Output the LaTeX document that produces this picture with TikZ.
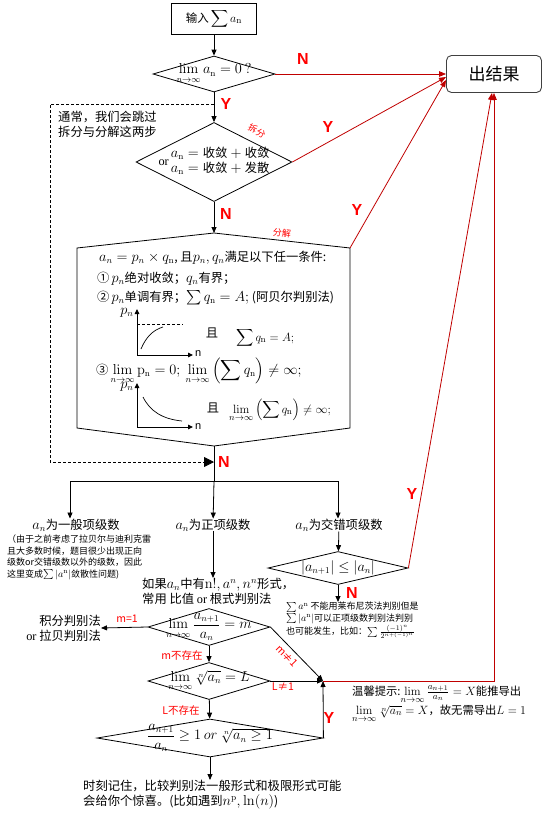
\documentclass[tikz,border=0pt]{standalone}
\usepackage{amsmath}
\usepackage[no-math]{fontspec}
\setmainfont{Noto Sans CJK SC}
\newfontfamily\latin{Liberation Serif}
\newfontfamily\arial{Liberation Sans}
\usepackage{tikz}
\usetikzlibrary{arrows.meta, positioning, shapes.geometric}

\DeclareMathSizes{12.3}{13.5}{9.5}{7.5}
\DeclareMathSizes{11.5}{12.6}{9}{7}
\DeclareMathSizes{11.3}{12.3}{8.8}{7}
\DeclareMathSizes{9}{10}{7}{5}

\definecolor{darkred}{HTML}{C00000}
\definecolor{brightred}{HTML}{FF0000}

\begin{document}
\begin{tikzpicture}[
  x = 1pt, y = -1pt,
  every node/.style = {font=\fontsize{12.3}{15}\selectfont, inner sep=0pt},
  box/.style    = {rectangle, draw=black, line width=0.8pt,
                   minimum width=85pt, minimum height=31pt},
  result/.style = {rectangle, rounded corners=5pt, draw=black!75, line width=0.9pt,
                   minimum width=95pt, minimum height=37pt,
                   font=\fontsize{17}{20}\selectfont},
  test/.style   = {diamond, draw=black, line width=0.8pt, inner sep=0pt},
  plain/.style  = {line width=0.8pt},
  arr/.style    = {-{Triangle[length=6pt, width=5pt]}, line width=0.8pt},
  rarr/.style   = {-{Triangle[length=7pt, width=5.5pt]}, draw=darkred, line width=0.8pt},
  bypass/.style = {-{Triangle[length=10pt, width=10pt]}, line width=0.8pt,
                   dash pattern=on 3pt off 2pt},
  gaxis/.style  = {-{Triangle[length=5pt, width=4.5pt]}, line width=0.9pt},
  yn/.style     = {text=brightred, font=\arial\bfseries\fontsize{16}{16}\selectfont},
  rlab/.style   = {text=brightred, font=\fontsize{10.5}{12}\selectfont},
  redsmall/.style = {text=brightred, font=\fontsize{9}{10}\selectfont},
  remark/.style = {align=left, font=\fontsize{9}{11.5}\selectfont}
]
\useasboundingbox (0,0) rectangle (549,814);

% ---- start and first test ---------------------------------------------
\node[box, font=\fontsize{11.5}{13}\selectfont, at={(214,19)}] (inp)
  {输入\,$\displaystyle\sum a_\mathrm{n}$};
\node[test, minimum width=122pt, minimum height=36pt, at={(214,74)},
      label={center:{$\lim\limits_{n\to\infty} a_\mathrm{n}=0\ ?$}}] (lim0) {};
\node[result, at={(494,74)}] (res) {出结果};

\draw[arr] (inp) -- (lim0);
\draw[rarr] (lim0.east) -- (res.west);
\node[yn, at={(303,59)}] (nlim) {N};

% ---- split test -----------------------------------------------------------
\node[test, minimum width=156pt, minimum height=79pt, at={(214,162)},
      label={center:{{\latin or}\,$\begin{array}{@{}l@{}}
        a_\mathrm{n}=\text{收敛}+\text{收敛}\\
        a_\mathrm{n}=\text{收敛}+\text{发散}\end{array}$}}] (split) {};
\draw[arr] (lim0) -- (split);
\node[yn, at={(226,104)}] (ylim) {Y};
\draw[rarr] (split.east) -- ([yshift=-3pt]res.west);
\node[yn, at={(328,127)}] (ysplit) {Y};
\node[redsmall, rotate=-27, at={(257,131)}] (chaifen) {拆分};

% the usual shortcut round splitting and decomposing
\coordinate (skipin)  at (214,104);
\coordinate (skipout) at (214,462);
\draw[bypass] (skipin) -- (50,104) -- (50,462) -- (skipout);
\node[anchor=north west, align=left, at={(58,111)}] (skiptxt)
  {通常，我们会跳过\\拆分与分解这两步};

% ---- decomposition box ------------------------------------------------------
\coordinate (dtop) at (214,233);
\coordinate (dtr)  at (350,248);
\coordinate (dbr)  at (350,428);
\coordinate (dbot) at (214,446);
\coordinate (dbl)  at (77,428);
\coordinate (dtl)  at (77,248);
\draw[plain] (dtop) -- (dtr) -- (dbr) -- (dbot) -- (dbl) -- (dtl) -- cycle;

\draw[arr] (split) -- (dtop);
\node[yn, at={(226,214)}] (nsplit) {N};
\node[redsmall, rotate=-6, at={(282,233)}] (fenjie) {分解};
\draw[rarr] (dtr) -- ([yshift=-6pt]res.west);
\node[yn, at={(357,210)}] (ydec) {Y};

\node[anchor=west, at={(99,258)}] (cond)
  {$a_n=p_n\times q_\mathrm{n}$, 且$p_n,q_n$满足以下任一条件:};
\node[anchor=west, at={(97,279)}] (c1) {①\,$p_n$绝对收敛；$q_n$有界；};
\node[anchor=west, at={(97,298)}] (c2)
  {②\,$p_n$单调有界；$\sum q_\mathrm{n}=A;$ (阿贝尔判别法)};

% small sketch: p_n bounded and monotone
\coordinate (o1) at (137,355);
\draw[gaxis] (o1) -- ++(0,-46);
\draw[gaxis] (o1) -- ++(56,0);
\draw[line width=0.7pt, dash pattern=on 3pt off 2pt] (137,324) -- (183,324);
\draw[line width=0.7pt] (141,349) .. controls (146,337) and (153,330) .. (163,327);
\node[at={(127,313)}] (py1) {$p_n$};
\node[anchor=west, font=\arial\fontsize{11}{12}\selectfont, at={(195,354)}] (nx1) {n};
\node[at={(212,333)}] (qie1) {且};
\node[anchor=west, font=\fontsize{11.5}{13}\selectfont, at={(236,338)}] (sumA)
  {$\displaystyle\sum q_\mathrm{n}=A;$};

\node[anchor=base west, at={(96,374)}] (c3)
  {③\,$\displaystyle\lim_{n\to\infty}\mathrm{p_n}=0;\ \lim_{n\to\infty}\left(\sum q_\mathrm{n}\right)\neq\infty;$};

% small sketch: p_n tends to zero
\coordinate (o2) at (137,427);
\draw[gaxis] (o2) -- ++(0,-44);
\draw[gaxis] (o2) -- ++(56,0);
\draw[line width=0.7pt] (143,397) .. controls (150,411) and (162,419) .. (182,421);
\node[at={(127,387)}] (py2) {$p_n$};
\node[anchor=west, font=\arial\fontsize{11}{12}\selectfont, at={(195,427)}] (nx2) {n};
\node[at={(213,408)}] (qie2) {且};
\node[anchor=base west, font=\fontsize{11.5}{13}\selectfont, at={(229,413)}] (limq)
  {$\displaystyle\lim_{n\to\infty}\left(\sum q_\mathrm{n}\right)\neq\infty;$};

% ---- three kinds of series -----------------------------------------------
\coordinate (fork) at (214,481);
\coordinate (brl)  at (70,481);
\coordinate (brr)  at (338,481);
\draw[plain] (dbot) -- (fork);
\node[yn, at={(224,462)}] (ndec) {N};
\draw[plain] (brl) -- (brr);

\node[at={(76,525)}]  (gen) {$a_n$为一般项级数};
\node[at={(213,525)}] (pos) {$a_n$为正项级数};
\node[at={(339,525)}] (alt) {$a_n$为交错项级数};
\draw[arr] (brl) -- (brl |- gen.north);
\draw[arr] (fork) -- (pos);
\draw[arr] (brr) -- (brr |- alt.north);

\node[remark, anchor=north west, at={(7,535)}] (gennote)
  {（由于之前考虑了拉贝尔与迪利克雷\\且大多数时候，题目很少出现正向\\级数or交错级数以外的级数，因此\\这里变成$\sum|a^\mathrm{n}|$敛散性问题)};

% ---- alternating series -------------------------------------------------
\node[test, minimum width=140pt, minimum height=33pt, at={(338,568)},
      label={center:{$|a_{n+1}|\leq|a_n|$}}] (dj) {};
\draw[arr] (alt) -- (dj);
\draw[rarr] (dj.east) -- ([xshift=-2pt]res.south);
\node[yn, at={(412,494)}] (yalt) {Y};
\node[remark, anchor=north west, at={(286,602)}] (warn)
  {$\sum a^\mathrm{n}$ 不能用莱布尼茨法判别但是\\$\sum|a^\mathrm{n}|$可以正项级数判别法判别\\也可能发生，比如：$\sum\frac{(-1)^n}{2^{n+(-1)^n}}$};
\draw[arr] (dj) -- (dj.south |- warn.north);
\node[yn, at={(352,593)}] (nalt) {N};

% ---- positive series: ratio and root tests ---------------------------------
\node[anchor=north west, align=left, at={(142,578)}] (ifn)
  {如果$a_n$中有$\mathrm{n!},a^n,n^n$形式，\\常用 比值 {\latin or} 根式判别法};
\draw[arr] (pos) -- (pos.south |- ifn.north);

\node[test, minimum width=122pt, minimum height=37pt, at={(209,627)},
      label={center:{$\lim\limits_{n\to\infty}\dfrac{a_{n+1}}{a_n}=m$}}] (d3) {};
\node[test, minimum width=122pt, minimum height=37pt, at={(209,681)},
      label={center:{$\lim\limits_{n\to\infty}\sqrt[n]{a_n}=L$}}] (d4) {};
\node[test, minimum width=226pt, minimum height=38pt, at={(210,738)},
      label={center:{$\dfrac{a_{n+1}}{a_n}\geq 1\ or\ \sqrt[n]{a_n\geq 1}$}}] (d5) {};
\coordinate (jn) at (323,681);

\node[anchor=east, align=right, at={(101,628)}] (intg) {积分判别法\\{\latin or} 拉贝判别法};
\draw[arr] (d3.west) -- (intg.east);
\node[rlab, at={(127,619)}] (meq) {m=1};

\draw[arr] (d3) -- (d4);
\node[rlab, at={(182,655)}] (mnone) {m不存在};
\draw[arr] (d3.east) -- (jn);
\node[rlab, rotate=-46, at={(287,656)}] (mneq) {m≠1};

\draw[arr] (d4.east) -- (jn);
\node[rlab, at={(283,687)}] (lneq) {L≠1};
\draw[arr] (d4) -- (d5);
\node[rlab, at={(181,710)}] (lnone) {L不存在};

\draw[arr] (d5.east) -- (jn);
\node[yn, at={(329,718)}] (yroot) {Y};
\draw[rarr] (jn) -- (res.south |- jn) -- (res.south);

\node[anchor=north west, align=left, font=\fontsize{11.3}{19}\selectfont, at={(352,685)}] (hint)
  {温馨提示:$\lim\limits_{n\to\infty}\frac{a_{n+1}}{a_n}=X$能推导出\\
   $\lim\limits_{n\to\infty}\sqrt[n]{a_n}=X$，故无需导出$L=1$};

\node[anchor=north west, align=left, at={(83,780)}] (final)
  {时刻记住，比较判别法一般形式和极限形式可能\\会给你个惊喜。(比如遇到$n^\mathrm{p},\ln(n)$)};
\draw[arr] (d5) -- (d5.south |- final.north);

\end{tikzpicture}
\end{document}
